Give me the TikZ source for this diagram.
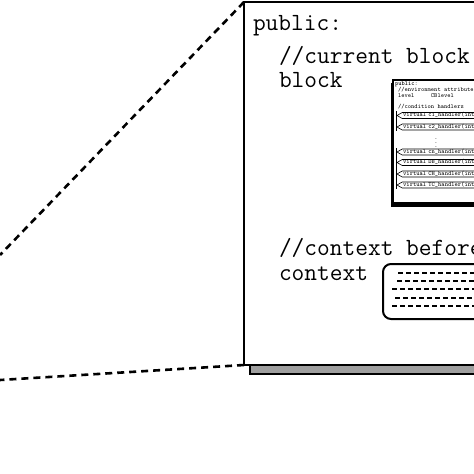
\documentclass[tikz,border=0pt]{standalone}
\usepackage{fontspec}
\newcommand\codefont{\ttfamily}
\usetikzlibrary{shapes.symbols}

\begin{document}
\begin{tikzpicture}[x=1pt, y=-1pt,
    every node/.style = {inner sep=0pt, outer sep=0pt},
    code/.style       = {anchor=base west, font=\codefont\fontsize{24.7}{27}\selectfont},
    tinycode/.style   = {anchor=base west, font=\codefont\fontsize{6.2}{7}\selectfont},
    panel/.style      = {draw, anchor=north west},
    handler/.style    = {signal, signal to=west, signal pointer angle=60, draw, fill=white,
                         line width=0.6pt, anchor=west, minimum height=6pt,
                         text width=100pt, align=left, text height=3.6pt, text depth=1pt,
                         inner xsep=1pt, font=\codefont\fontsize{6.2}{7}\selectfont},
    zoomline/.style   = {dash pattern=on 7pt off 5pt, line width=2.6pt},
    fillerline/.style = {dash pattern=on 5pt off 3pt, line width=1.8pt}
  ]
  \useasboundingbox (0,0) rectangle (474,474);
  \clip (0,0) rectangle (474,474);

  % main panel with its shadow
  \node (mainshadow) [panel, fill=gray!75, line width=2pt, minimum width=260pt, minimum height=363pt] at (250,11) {};
  \node (mainbox)    [panel, fill=white, line width=2.4pt, minimum width=260pt, minimum height=363pt] at (244,2) {};

  \coordinate (lenstop)    at (0,255);
  \coordinate (lensbottom) at (0,380);
  \draw[zoomline] (mainbox.north west) -- (lenstop);
  \draw[zoomline] (mainbox.south west) -- (lensbottom);

  \node (pubtext)    [code] at (253,30)   {public:};
  \node (blockcmt)   [code] at (279,63.3) {//current block};
  \node (blocktext)  [code] at (279,87.7) {block};
  \node (contextcmt) [code] at (279,255)  {//context before};
  \node (contexttxt) [code] at (279,280)  {context};

  % the block, drawn small
  \node (blockshadow) [panel, fill=black, minimum width=110pt, minimum height=123pt] at (391,83) {};
  \node (blockbox)    [panel, fill=white, line width=1.2pt, minimum width=110pt, minimum height=123pt] at (393,80) {};

  \node (smallpub)   [tinycode, font=\codefont\bfseries\fontsize{6.2}{7}\selectfont] at (395,85) {public:};
  \node (smallenv)   [tinycode] at (398,91.5) {//environment attribute};
  \node (smalllevel) [tinycode] at (398,97.5) {level~~~~~CBlevel};
  \node (smallcond)  [tinycode] at (398,108)  {//condition handlers};

  \draw[line width=0.7pt] (396.5,111) -- (396.5,131);
  \draw[line width=0.7pt] (396.5,148) -- (396.5,189);

  \node (cone)   [handler] at (397,115.5) {virtual c1\_handler(int x);};
  \node (ctwo)   [handler] at (397,127)   {virtual c2\_handler(int x);};
  \node (dotsh)  [font=\fontsize{8}{9}\selectfont] at (436,140) {$\vdots$};
  \node (cn)     [handler] at (397,152)   {virtual cn\_handler(int x);};
  \node (dbh)    [handler] at (397,162.5) {virtual DB\_handler(int x);};
  \node (chh)    [handler] at (397,174)   {virtual CH\_handler(int x);};
  \node (tch)    [handler] at (397,185)   {virtual TC\_handler(int x);};

  % the context, drawn small
  \node (contextbox) [panel, rounded corners=8pt, line width=2pt, minimum width=120pt, minimum height=55pt] at (383,264) {};
  \foreach \y/\x in {273/398, 281/397, 289/392, 298/395, 306/392}
    \draw[fillerline] (\x,\y) -- (480,\y);
\end{tikzpicture}
\end{document}
